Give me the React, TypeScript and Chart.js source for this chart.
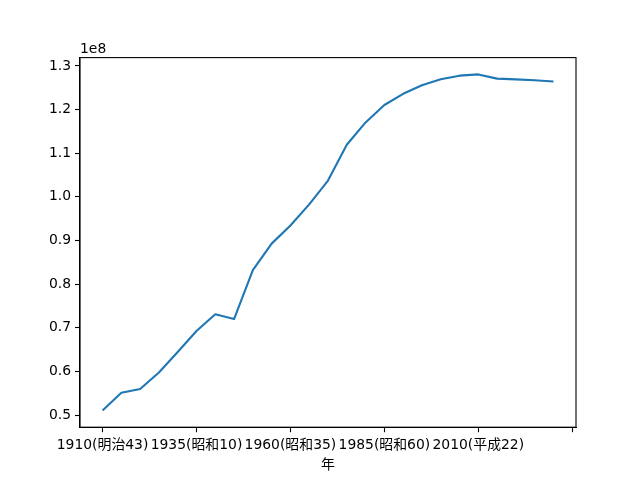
import React, { useEffect, useRef } from "react";
import { Chart, registerables } from "chart.js";

Chart.register(...registerables);

const years = [
  "1910(明治43)", "1915(大正4)", "1920(大正9)", "1925(大正14)", "1930(昭和5)",
  "1935(昭和10)", "1940(昭和15)", "1945(昭和20)", "1950(昭和25)", "1955(昭和30)",
  "1960(昭和35)", "1965(昭和40)", "1970(昭和45)", "1975(昭和50)", "1980(昭和55)",
  "1985(昭和60)", "1990(平成2)", "1995(平成7)", "2000(平成12)", "2005(平成17)",
  "2010(平成22)", "2015(平成27)", "2016(平成28)", "2017(平成29)", "2018(平成30)",
];

const population = [
  51060000, 55100000, 55960000, 59740000, 64450000,
  69250000, 73100000, 72000000, 83200000, 89280000,
  93420000, 98280000, 103720000, 111940000, 117060000,
  121050000, 123610000, 125570000, 126930000, 127770000,
  128060000, 127090000, 126930000, 126710000, 126440000,
];

const xTickIndices = [0, 5, 10, 15, 20, 25];
const yTickValues = [0.5e8, 0.6e8, 0.7e8, 0.8e8, 0.9e8, 1.0e8, 1.1e8, 1.2e8, 1.3e8];
const xTitle = "年";
const offsetText = "1e8";

const FONT = "'DejaVu Sans', 'Noto Sans CJK JP', sans-serif";
const FSIZE = 13.9;

const framePlugin = {
  id: "frame",
  afterDraw(chart: any) {
    const { ctx, chartArea } = chart;
    ctx.save();
    ctx.strokeStyle = "#000";
    ctx.lineWidth = 1.1;
    ctx.strokeRect(chartArea.left, chartArea.top, chartArea.right - chartArea.left, chartArea.bottom - chartArea.top);
    ctx.fillStyle = "#000";
    ctx.font = `${FSIZE}px ${FONT}`;
    ctx.textAlign = "left";
    ctx.textBaseline = "alphabetic";
    ctx.fillText(offsetText, chartArea.left, chartArea.top - 5);
    ctx.restore();
  },
};

export default function App() {
  const ref = useRef<HTMLCanvasElement>(null);
  useEffect(() => {
    const canvas = ref.current;
    if (!canvas) return;
    const n = population.length;
    const margin = (n - 1) * 0.05;
    const ymin = Math.min(...population);
    const ymax = Math.max(...population);
    const ym = (ymax - ymin) * 0.05;
    const chart = new Chart(canvas, {
      type: "line",
      data: {
        datasets: [
          {
            data: population.map((v, i) => ({ x: i, y: v })),
            borderColor: "#1f77b4",
            borderWidth: 2.1,
            pointRadius: 0,
            fill: false,
            tension: 0,
            borderCapStyle: "butt",
            borderJoinStyle: "round",
          },
        ],
      },
      options: {
        animation: false,
        responsive: false,
        devicePixelRatio: 1,
        plugins: { legend: { display: false }, tooltip: { enabled: false } },
        layout: { padding: { top: 57.6, right: 64, left: 0, bottom: 0 } },
        scales: {
          x: {
            type: "linear",
            min: -margin,
            max: n - 1 + margin,
            afterBuildTicks: (axis: any) => {
              axis.ticks = xTickIndices.map((v) => ({ value: v }));
            },
            afterFit: (axis: any) => {
              axis.height = 480 - 427.2;
            },
            ticks: {
              autoSkip: false,
              maxRotation: 0,
              minRotation: 0,
              padding: 5,
              color: "#000",
              font: { family: FONT, size: FSIZE },
              callback: (v: any) => years[v as number] ?? "",
            },
            grid: {
              display: true,
              drawOnChartArea: false,
              drawTicks: true,
              tickLength: 5,
              tickWidth: 1.1,
              tickColor: "#000",
            },
            border: { display: true, color: "#000", width: 1.1 },
            title: {
              display: true,
              text: xTitle,
              color: "#000",
              font: { family: FONT, size: FSIZE },
              padding: { top: 0, bottom: 6 },
            },
          },
          y: {
            type: "linear",
            min: ymin - ym,
            max: ymax + ym,
            afterBuildTicks: (axis: any) => {
              axis.ticks = yTickValues.map((v) => ({ value: v }));
            },
            afterFit: (axis: any) => {
              axis.width = 80;
            },
            ticks: {
              padding: 4,
              color: "#000",
              font: { family: FONT, size: FSIZE },
              callback: (v: any) => ((v as number) / 1e8).toFixed(1),
            },
            grid: {
              display: true,
              drawOnChartArea: false,
              drawTicks: true,
              tickLength: 5,
              tickWidth: 1.1,
              tickColor: "#000",
            },
            border: { display: true, color: "#000", width: 1.1 },
          },
        },
      },
      plugins: [framePlugin],
    });
    return () => chart.destroy();
  }, []);
  return (
    <div style={{ position: "absolute", left: 0, top: 0, width: 640, height: 480, background: "#fff" }}>
      <canvas ref={ref} width={640} height={480} style={{ width: 640, height: 480 }} />
    </div>
  );
}
